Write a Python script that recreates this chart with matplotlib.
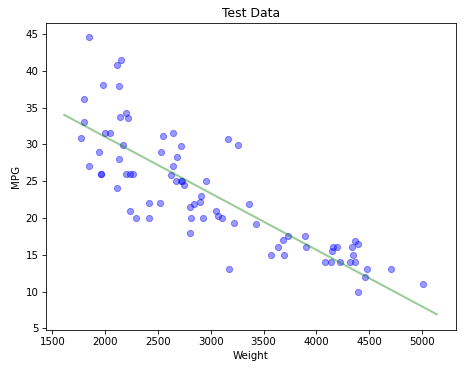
import numpy as np
from matplotlib import pyplot as plt

#Test data (weight in lbs, fuel economy in mpg)
weight = [1850, 2150, 2115, 1975, 2130, 1800, 2195, 2145, 2220, 1800,
          1995, 2050, 1775, 2545, 2640, 3165, 3260, 2165, 1945, 2530,
          2720, 2130, 2680, 1845, 2645, 1960, 1960, 2195, 2240, 2265,
          2620, 2720, 2730, 2675, 2750, 2955, 2115, 2910, 2235, 2415,
          2515, 2290, 2415, 2800, 2840, 2895, 2815, 2925, 3050, 3065,
          3110, 2800, 3220, 3360, 3430, 3175, 3575, 3640, 3685, 3730,
          3695, 3890, 3905, 4080, 4135, 4155, 4150, 4200, 4220, 4320,
          4365, 4340, 4350, 4370, 4390, 4475, 4465, 4390, 4710, 5005]
mpg = [44.6, 41.5, 40.8, 38.0, 37.9, 36.1, 34.3, 33.7, 33.6, 33.0,
       31.5, 31.5, 30.9, 31.2, 31.6, 30.7, 29.9, 29.9, 29.0, 29.0,
       29.8, 28.0, 28.3, 27.0, 27.0, 26.0, 26.0, 26.0, 26.0, 26.0,
       25.8, 25.0, 25.0, 25.0, 24.5, 25.0, 24.0, 23.0, 21.0, 22.0,
       22.0, 20.0, 20.0, 21.5, 21.9, 22.2, 20.0, 20.0, 21.0, 20.2,
       20.0, 18.0, 19.3, 21.9, 19.2, 13.0, 15.0, 16.0, 17.0, 17.5,
       15.0, 17.5, 16.0, 14.0, 14.0, 16.0, 15.5, 16.0, 14.0, 14.0,
       14.0, 16.0, 15.0, 16.9, 16.5, 13.0, 12.0, 10.0, 13.0, 11.0]

#Regression line end points (over full weight range)
fit_weight = [1613, 5140]
fit_mpg = [34.0, 6.9]

fig = plt.figure(figsize=(474 / 74, 373 / 74), dpi=74)
ax = fig.add_axes([0.0964, 0.1166, 0.8656, 0.821])

ax.scatter(weight, mpg, color='blue', alpha=0.4)
ax.plot(fit_weight, fit_mpg, color='green', alpha=0.4, linewidth=2)

# Format plot
ax.set_xlim(1437, 5322)
ax.set_ylim(4.84, 46.45)
ax.set_xticks(np.arange(1500, 5001, 500))
ax.set_yticks(np.arange(5, 46, 5))
ax.set_title('Test Data')
ax.set_xlabel('Weight')
ax.set_ylabel('MPG')

fig.savefig('out.png', dpi=74)
